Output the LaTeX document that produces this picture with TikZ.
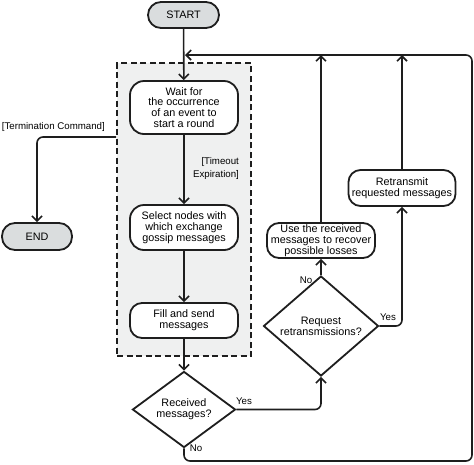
\documentclass[tikz,border=0pt]{standalone}
\usepackage{fontspec}
\setmainfont{Liberation Sans}
\usetikzlibrary{shapes.geometric,arrows.meta}
\definecolor{termgray}{HTML}{DADDDE}
\definecolor{grpgray}{HTML}{EFF0F0}
\definecolor{ink}{HTML}{1E1E1E}
\begin{document}
\begin{tikzpicture}[x=1pt,y=-1pt,
  line/.style={draw=ink, line width=1.6pt},
  arr/.style={line, -{Straight Barb[length=5pt,width=10pt,line width=1.6pt]}},
  proc/.style={draw=ink, line width=1.8pt, rounded corners=14pt, fill=white, align=center,
    inner sep=0pt, font=\fontsize{10.8}{10.8}\selectfont},
  term/.style={proc, fill=termgray, rounded corners=13pt},
  dec/.style={diamond, draw=ink, line width=1.8pt, fill=white, align=center, inner sep=0pt,
    font=\fontsize{10.8}{10.8}\selectfont},
  lab/.style={font=\fontsize{9.7}{13}\selectfont, inner sep=0pt, align=right}
]
\useasboundingbox (0,0) rectangle (474,464);

\node[draw=ink, line width=1.8pt, dash pattern=on 6pt off 3.5pt, fill=grpgray,
  minimum width=134pt, minimum height=293pt, inner sep=0pt] (group) at (184,209.5) {};

\node[term, minimum width=71pt, minimum height=26pt] (start) at (183.5,15) {START};
\node[term, minimum width=70pt, minimum height=27pt] (endn) at (37,236.5) {END};
\node[proc, minimum width=108pt, minimum height=53pt] (wait) at (184,107.5)
  {Wait for\\the occurrence\\of an event to\\start a round};
\node[proc, minimum width=108pt, minimum height=45pt] (select) at (184,227.5)
  {Select nodes with\\which exchange\\gossip messages};
\node[proc, minimum width=108pt, minimum height=35pt, rounded corners=12pt] (fill) at (184,320.5)
  {Fill and send\\messages};
\node[dec, minimum width=103pt, minimum height=53pt] (recv) at (184,409.5)
  {Received\\messages?};
\node[dec, minimum width=115pt, minimum height=78pt] (req) at (321,326)
  {Request\\retransmissions?};
\node[proc, minimum width=108pt, minimum height=35pt, rounded corners=12pt] (use) at (321,240.5)
  {Use the received\\messages to recover\\possible losses};
\node[proc, minimum width=107pt, minimum height=36pt, rounded corners=12pt] (retr) at (402,188)
  {Retransmit\\requested messages};

\coordinate (tc) at (0,137);
\coordinate (loopr) at (472,55);
\coordinate (bot) at (0,461);
\coordinate (loopend) at (185,55);

\draw[arr] (start) -- (wait);
\draw[arr] (wait) -- (select);
\draw[arr] (select) -- (fill);
\draw[arr] (fill) -- (recv);
\draw[arr, rounded corners=6pt] (group.west |- tc) -| (endn.north);
\draw[arr, rounded corners=6pt] (recv.east) -| (req.south);
\draw[arr] (req.north) -- (use.south);
\draw[arr, rounded corners=6pt] (req.east) -| (retr.south);
\draw[arr] (use.north) -- (use.north |- loopr);
\draw[arr] (retr.north) -- (retr.north |- loopr);
\draw[arr, rounded corners=6pt] (recv.south) -- (recv.south |- bot) -- (bot -| loopr) -- (loopr) -- (loopend);

\node[lab, anchor=east] (ltc) at (105,127) {[Termination Command]};
\node[lab] (lto) at (216,168) {[Timeout\\Expiration]};
\node[lab] (ly1) at (244,401) {Yes};
\node[lab] (ln1) at (196,448) {No};
\node[lab] (ln2) at (306,280) {No};
\node[lab] (ly2) at (388,317) {Yes};
\end{tikzpicture}
\end{document}
